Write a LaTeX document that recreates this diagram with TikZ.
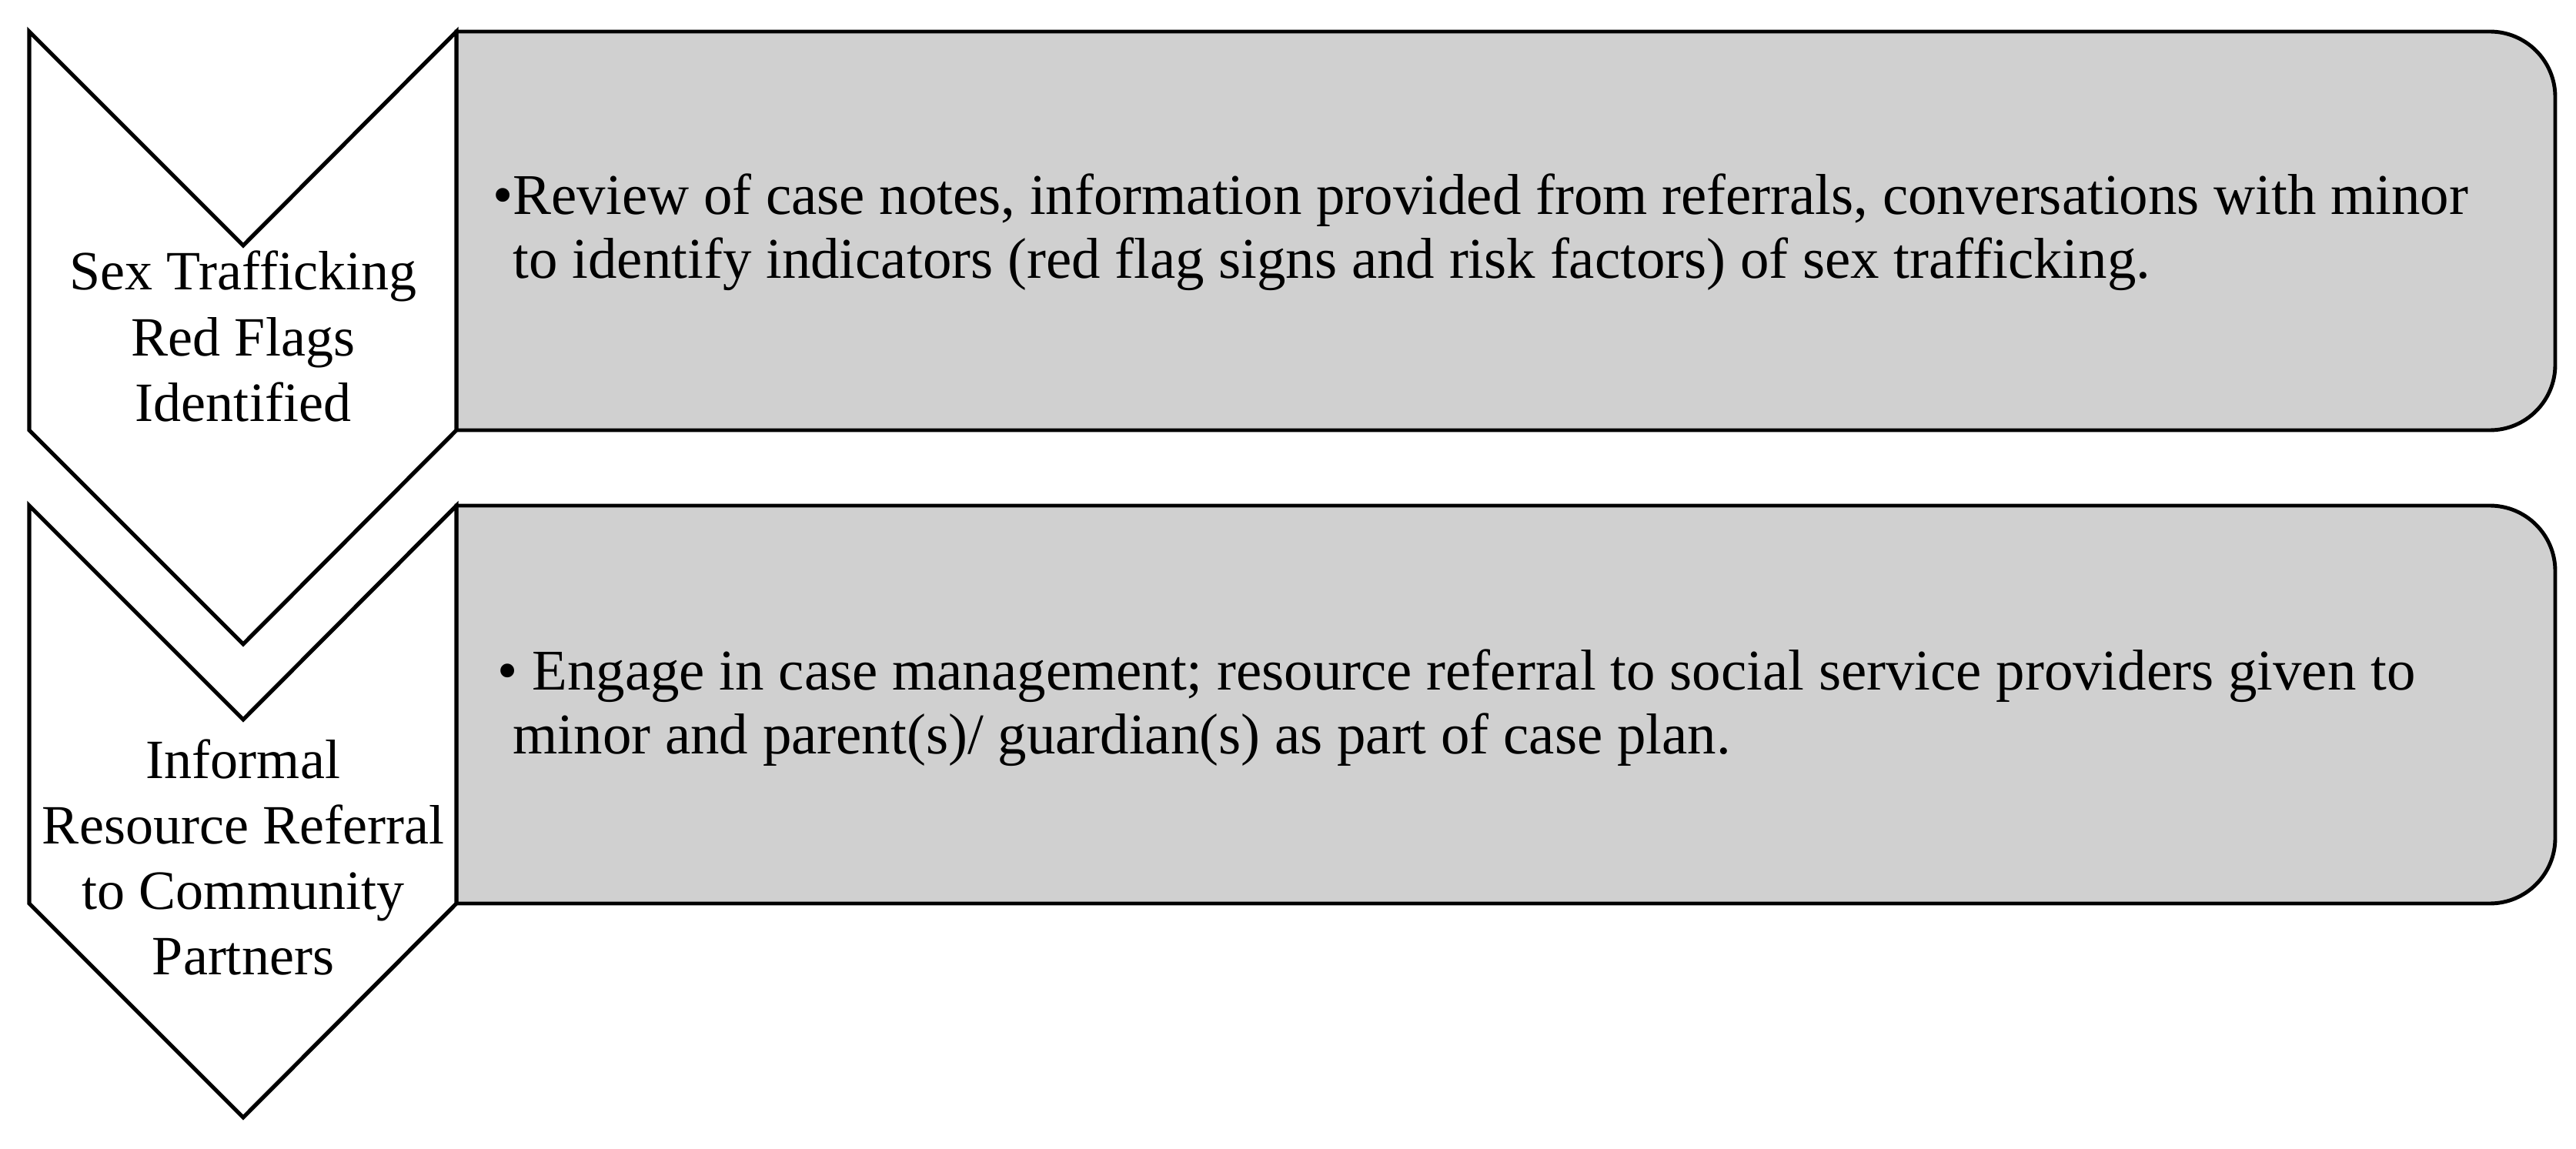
\documentclass[tikz,border=0pt]{standalone}
\usepackage{fontspec}
\setmainfont{Liberation Serif}
\begin{document}
\begin{tikzpicture}[
  chev/.style={draw=black, line width=1.5pt, fill=white, line join=miter},
  gbox/.style={draw=black, line width=1.4pt, fill=boxgray},
  ctext/.style={align=center, font=\fontsize{20.5}{24.2}\selectfont, inner sep=0pt},
  btext/.style={align=left, anchor=west, font=\fontsize{21.3}{23.6}\selectfont, inner sep=0pt}
]
\definecolor{boxgray}{RGB}{208,208,208}
\useasboundingbox (0,0) rectangle (33.47,-14.93);
% boxes
\draw[gbox] (5.93,-0.41) -- (32.35,-0.41) arc[start angle=90,end angle=0,radius=0.85] -- (33.20,-4.74) arc[start angle=0,end angle=-90,radius=0.85] -- (5.93,-5.59) -- cycle;
\draw[gbox] (5.93,-6.57) -- (32.35,-6.57) arc[start angle=90,end angle=0,radius=0.85] -- (33.20,-10.89) arc[start angle=0,end angle=-90,radius=0.85] -- (5.93,-11.74) -- cycle;
% chevrons
\draw[chev] (0.38,-6.57) -- (3.16,-9.35) -- (5.93,-6.57) -- (5.93,-11.74) -- (3.16,-14.52) -- (0.38,-11.74) -- cycle;
\draw[chev] (0.38,-0.41) -- (3.16,-3.19) -- (5.93,-0.41) -- (5.93,-5.59) -- (3.16,-8.37) -- (0.38,-5.59) -- cycle;
% chevron texts
\node[ctext] (c1) at (3.16,-4.37) {Sex Trafficking\\Red Flags\\Identified};
\node[ctext] (c2) at (3.16,-11.14) {Informal\\Resource Referral\\to Community\\Partners};
% box texts
\node[btext] (b1) at (6.66,-3.02) {\llap{\textbullet}Review of case notes, information provided from referrals, conversations with minor\\to identify indicators (red flag signs and risk factors) of sex trafficking.};
\node[btext] (b2) at (6.66,-9.20) {\hspace{0.25cm}\llap{\textbullet\ }Engage in case management; resource referral to social service providers given to\\minor and parent(s)/ guardian(s) as part of case plan.};
\end{tikzpicture}
\end{document}
